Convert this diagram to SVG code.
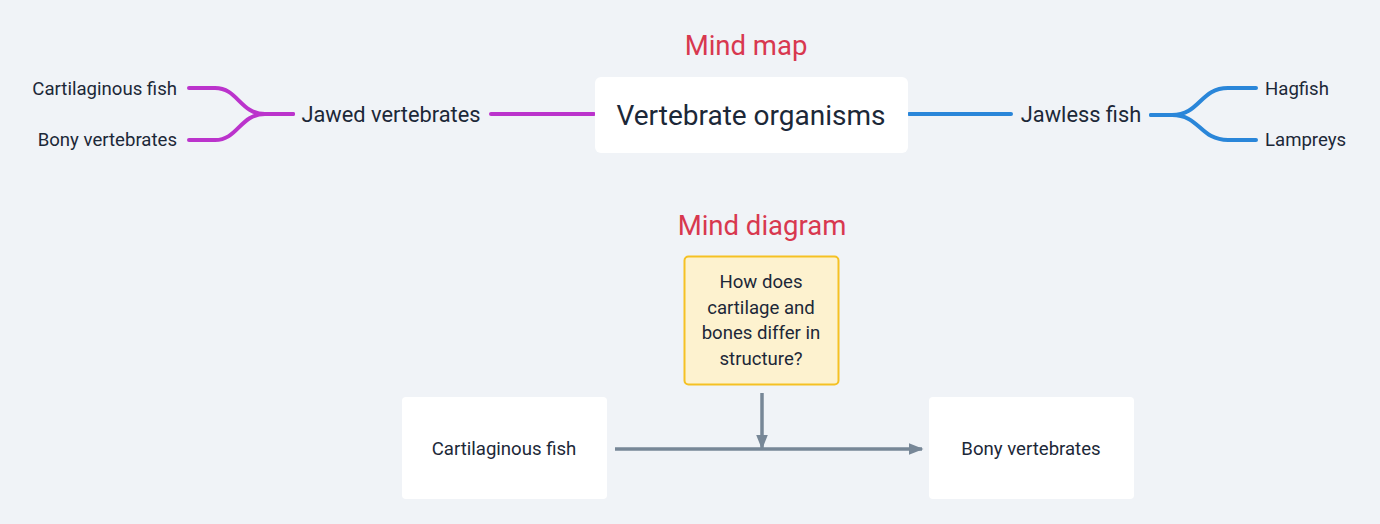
<svg xmlns="http://www.w3.org/2000/svg" width="1380" height="524" viewBox="0 0 1380 524">
<defs>
<style>
text{font-family:Roboto,"Noto Sans",sans-serif;fill:#1c2838;}
.title{fill:#d8384f;font-size:27.5px;text-anchor:middle;}
.card{fill:#ffffff;}
.br{fill:none;stroke-width:4;stroke-linecap:round;}
.p{stroke:#bb33cc;}
.b{stroke:#2a86d9;}
.g{stroke:#778797;stroke-width:3.5;fill:none;}
.s{font-size:18.6px;}
.m{font-size:21.8px;}
</style>
<marker id="ah2" viewBox="0 0 10 10" refX="9" refY="5" markerWidth="15" markerHeight="15" markerUnits="userSpaceOnUse" orient="auto">
<path d="M0,1 L10,5 L0,9 Z" fill="#778797"/>
</marker>
</defs>
<rect width="1380" height="524" fill="#f0f3f7"/>
<text class="title" x="746" y="55">Mind map</text>
<text class="title" x="762" y="235">Mind diagram</text>
<g id="connectors">
<path class="br p" d="M491,114 L594,114"/>
<path class="br p" d="M293,114 L265,114 C240,114 238,88 215,88 L189,88"/>
<path class="br p" d="M293,114 L265,114 C240,114 238,140 215,140 L189,140"/>
<path class="br b" d="M909,114 L1011,114"/>
<path class="br b" d="M1151,115 L1172,115 C1200,115 1200,88 1228,88 L1256,88"/>
<path class="br b" d="M1151,115 L1172,115 C1200,115 1200,140 1228,140 L1256,140"/>
<path class="g" d="M615,449 L922,449" marker-end="url(#ah2)"/>
<path class="g" d="M762,393 L762,448" marker-end="url(#ah2)"/>
</g>
<g id="root">
<rect class="card" x="595" y="77" width="313" height="76" rx="6"/>
<text x="751" y="125" font-size="28" text-anchor="middle">Vertebrate organisms</text>
</g>
<g id="jawed">
<text class="m" x="391" y="122" text-anchor="middle">Jawed vertebrates</text>
</g>
<g id="cart">
<text class="s" x="177" y="95" text-anchor="end">Cartilaginous fish</text>
</g>
<g id="bony">
<text class="s" x="177" y="146" text-anchor="end">Bony vertebrates</text>
</g>
<g id="jawless">
<text class="m" x="1081" y="122" text-anchor="middle">Jawless fish</text>
</g>
<g id="hagfish">
<text class="s" x="1265" y="95">Hagfish</text>
</g>
<g id="lampreys">
<text class="s" x="1265" y="146">Lampreys</text>
</g>
<g id="question">
<rect x="684.5" y="256.5" width="154" height="128" rx="4" fill="#fdf2cf" stroke="#f5c124" stroke-width="2"/>
<text class="s" text-anchor="middle"><tspan x="761" y="288">How does</tspan><tspan x="761" y="314">cartilage and</tspan><tspan x="761" y="339">bones differ in</tspan><tspan x="761" y="365">structure?</tspan></text>
</g>
<g id="cart2">
<rect class="card" x="402" y="397" width="205" height="102" rx="4"/>
<text class="s" x="504" y="455" text-anchor="middle">Cartilaginous fish</text>
</g>
<g id="bony2">
<rect class="card" x="929" y="397" width="205" height="102" rx="4"/>
<text class="s" x="1031" y="455" text-anchor="middle">Bony vertebrates</text>
</g>
</svg>
